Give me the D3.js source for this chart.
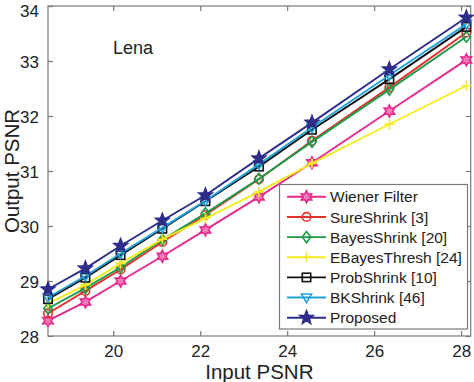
<!DOCTYPE html>
<html><head><meta charset="utf-8">
<script src="https://cdn.jsdelivr.net/npm/d3@7/dist/d3.min.js"></script>
<style>body{margin:0;background:#fff}svg{display:block}text{font-family:"Liberation Sans",Arial,sans-serif}</style>
</head><body><div id="c"></div>
<script>
const inputPSNR = [18.5, 19.36, 20.17, 21.13, 22.12, 23.35, 24.57, 26.35, 28.12];
const wiener   = [28.28, 28.62, 29.00, 29.45, 29.93, 30.53, 31.15, 32.09, 33.02];
const sure     = [28.41, 28.82, 29.21, 29.71, 30.20, 30.85, 31.55, 32.52, 33.52];
const bayes    = [28.50, 28.87, 29.25, 29.75, 30.23, 30.86, 31.53, 32.48, 33.44];
const ebayes   = [28.59, 28.93, 29.32, 29.76, 30.14, 30.62, 31.14, 31.85, 32.55];
const prob     = [28.67, 29.06, 29.47, 29.95, 30.45, 31.08, 31.75, 32.67, 33.62];
const bk       = [28.70, 29.09, 29.50, 29.97, 30.46, 31.12, 31.79, 32.74, 33.67];
const proposed = [28.85, 29.23, 29.64, 30.10, 30.56, 31.23, 31.88, 32.85, 33.79];
const seriesNames = ["Wiener Filter","SureShrink [3]","BayesShrink [20]","EBayesThresh [24]","ProbShrink [10]","BKShrink [46]","Proposed"];
const xTicks = [20, 22, 24, 26, 28];
const yTicks = [28, 29, 30, 31, 32, 33, 34];

const series = [
  {name: seriesNames[0], values: wiener,   color: "#e62a8c", marker: "hex"},
  {name: seriesNames[1], values: sure,     color: "#e3322b", marker: "circle"},
  {name: seriesNames[2], values: bayes,    color: "#1e9a4b", marker: "diamond"},
  {name: seriesNames[3], values: ebayes,   color: "#f2ec1e", marker: "plus"},
  {name: seriesNames[4], values: prob,     color: "#111111", marker: "square"},
  {name: seriesNames[5], values: bk,       color: "#1fa3dc", marker: "tri"},
  {name: seriesNames[6], values: proposed, color: "#2e2d8a", marker: "star"}
];

const W = 474, H = 382;
const m = {left: 48, top: 6, right: 3.3, bottom: 46};
const svg = d3.select("#c").append("svg").attr("width", W).attr("height", H);
const x = d3.scaleLinear().domain([18.5, 28.22]).range([m.left, W - m.right]);
const y = d3.scaleLinear().domain([28, 34]).range([H - m.bottom, m.top]);
const axisColor = "#7a7a7a";

svg.append("rect").attr("x", x.range()[0]).attr("y", y.range()[1])
  .attr("width", x.range()[1]-x.range()[0]).attr("height", y.range()[0]-y.range()[1])
  .attr("fill", "none").attr("stroke", axisColor).attr("stroke-width", 1.2);

function styleAxis(g){
  g.select(".domain").remove();
  g.selectAll(".tick line").attr("stroke", axisColor).attr("stroke-width", 1.2);
  g.selectAll(".tick text").attr("fill", "#222").style("font-size", "17px");
}
svg.append("g").attr("transform", `translate(0,${y.range()[0]})`)
  .call(d3.axisBottom(x).tickValues(xTicks).tickSizeInner(-5).tickSizeOuter(0).tickPadding(9).tickFormat(d3.format("d")))
  .call(styleAxis);
svg.append("g").attr("transform", `translate(0,${y.range()[1]})`)
  .call(d3.axisTop(x).tickValues(xTicks).tickSizeInner(-5).tickSizeOuter(0).tickFormat(""))
  .call(styleAxis);
svg.append("g").attr("transform", `translate(${x.range()[0]},0)`)
  .call(d3.axisLeft(y).tickValues(yTicks).tickSizeInner(-5).tickSizeOuter(0).tickPadding(9).tickFormat(d3.format("d")))
  .call(styleAxis)
  .call(g => g.selectAll(".tick text").attr("dy", d => d === 34 ? "0.6em" : "0.4em"));
svg.append("g").attr("transform", `translate(${x.range()[1]},0)`)
  .call(d3.axisRight(y).tickValues(yTicks).tickSizeInner(-5).tickSizeOuter(0).tickFormat(""))
  .call(styleAxis);

svg.append("text").attr("x", (x.range()[0]+x.range()[1])/2).attr("y", 379).attr("text-anchor", "middle")
  .style("font-size", "20.5px").attr("fill", "#222").text("Input PSNR");
svg.append("text").attr("transform", `translate(19,${(y.range()[0]+y.range()[1])/2}) rotate(-90)`)
  .attr("text-anchor", "middle").style("font-size", "20.5px").attr("fill", "#222").text("Output PSNR");
svg.append("text").attr("x", 113).attr("y", 54).style("font-size", "18px").attr("fill", "#222").text("Lena");

function starPath(n, ro, ri){
  let p = [];
  for (let i = 0; i < 2*n; i++){
    const a = -Math.PI/2 + i*Math.PI/n, r = i%2 ? ri : ro;
    p.push([r*Math.cos(a), r*Math.sin(a)]);
  }
  return "M" + p.map(q => q[0].toFixed(2)+","+q[1].toFixed(2)).join("L") + "Z";
}
function drawMarker(g, type, color, cx, cy){
  const t = `translate(${cx},${cy})`;
  let el;
  if (type === "circle") el = g.append("circle").attr("cx", cx).attr("cy", cy).attr("r", 4.3).attr("fill", "none");
  else if (type === "square") el = g.append("rect").attr("x", cx-4.2).attr("y", cy-4.2).attr("width", 8.4).attr("height", 8.4).attr("fill", "none");
  else if (type === "diamond") el = g.append("path").attr("transform", t).attr("d", "M0,-5.5L4.2,0L0,5.5L-4.2,0Z").attr("fill", "none");
  else if (type === "tri") el = g.append("path").attr("transform", t).attr("d", "M-5,-3.5L5,-3.5L0,5Z").attr("fill", "none");
  else if (type === "plus") el = g.append("path").attr("transform", t).attr("d", "M-5,0L5,0M0,-5L0,5").attr("fill", "none");
  else if (type === "hex") el = g.append("path").attr("transform", t).attr("d", starPath(6, 6, 3.3)).attr("fill", "#f07ab8");
  else if (type === "star") el = g.append("path").attr("transform", t).attr("d", starPath(5, 7, 3)).attr("fill", color);
  el.attr("stroke", color).attr("stroke-width", 1.6).attr("stroke-linejoin", "miter");
}

const line = d3.line().x((d,i) => x(inputPSNR[i])).y(d => y(d));
const plot = svg.append("g");
series.forEach(s => {
  plot.append("path").attr("d", line(s.values)).attr("fill", "none")
    .attr("stroke", s.color).attr("stroke-width", 1.9);
  s.values.forEach((v,i) => drawMarker(plot, s.marker, s.color, x(inputPSNR[i]), y(v)));
});

const lg = svg.append("g");
const lx = 279.5, ly = 184.5, lw = 188, lh = 144.5;
lg.append("rect").attr("x", lx).attr("y", ly).attr("width", lw).attr("height", lh)
  .attr("fill", "#fff").attr("stroke", axisColor).attr("stroke-width", 1.2);
series.forEach((s, i) => {
  const cy = 196.8 + i*20.15;
  lg.append("line").attr("x1", 287).attr("x2", 326).attr("y1", cy).attr("y2", cy)
    .attr("stroke", s.color).attr("stroke-width", 1.9);
  drawMarker(lg, s.marker, s.color, 306.5, cy);
  lg.append("text").attr("x", 330).attr("y", cy + 5.6).style("font-size", "15.5px").attr("fill", "#222").text(s.name);
});
</script></body></html>
